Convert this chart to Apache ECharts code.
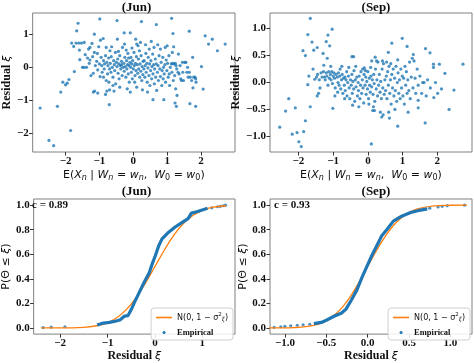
<!DOCTYPE html>
<html><head><meta charset="utf-8">
<script src="https://cdn.jsdelivr.net/npm/echarts@6/dist/echarts.min.js"></script>
<style>html,body{margin:0;padding:0;background:#fff}#c{width:474px;height:363px}</style>
</head><body><div id="c"></div>
<script>
// ---------- DATA ----------
const panelTitles = ['(Jun)', '(Sep)', '(Jun)', '(Sep)'];
const cLabels = ['c = 0.89', 'c = 0.93'];

// Top-left: Jun residuals vs E(Xn | Wn=wn, W0=w0)
const junResiduals = [
[-2.75,-1.23],[-2.49,-2.21],[-2.35,-2.37],[-2.24,-1.18],[-1.85,-1.91],[-2.14,-0.75],[-2.08,-0.45],[-2.0,-0.53],[-1.95,-0.48],[-1.9,-0.37],[-1.74,-0.13],[-1.63,1.33],[-1.67,1.1],[-1.82,0.73],[-1.76,0.63],[-1.69,0.73],[-1.61,0.73],[-1.53,0.73],[-1.59,0.52],[-1.58,0.23],[-1.5,0],[-1.45,0],[-0.99,1.46],[-0.48,1.41],[0.24,1.38],[0.68,1.29],[1.13,1.48],[-1.15,1.0],[-0.89,0.87],[-0.27,1.04],[-0.09,1.04],[0.1,0.7],[1.17,1.02],[1.65,1.09],[2.12,0.95],[2.33,0.85],[2.22,0.7],[2.71,0.7],[2.48,0.5],[2.01,0.02],[2.06,-0.66],[1.84,-0.35],[1.76,-0.62],[1.67,-1.1],[1.84,-1.18],[1.23,-1.08],[1.27,-1.18],[0.9,-0.98],[0.58,-0.98],[-0.71,-1.13],[-1.18,-0.75],[-1.05,-0.78],[-0.82,-0.82],[-0.7,-0.68],
[-1.42,0.38],[-1.35,0.28],[-1.38,0.0],[-1.32,0.55],[-1.3,0.12],[-1.45,0.75],
[-1.28,0.22],[-1.25,-0.25],[-1.22,0.72],[-1.2,0.32],[-1.18,-0.18],[-1.15,0.45],[-1.12,0.05],[-1.28,0.6],[-1.14,-0.72],
[-1.08,0.18],[-1.05,-0.08],[-1.02,0.62],[-1.0,0.1],[-0.98,-0.28],[-0.95,0.3],[-0.93,0.05],[-0.92,-0.15],[-1.06,0.42],[-0.97,0.82],
[-0.88,0.2],[-0.86,-0.05],[-0.85,0.1],[-0.82,0.35],[-0.8,-0.4],[-0.78,0.15],[-0.76,-0.2],[-0.75,0.05],[-0.73,0.28],[-0.72,-0.45],[-0.88,-0.3],[-0.8,0.6],[-0.7,-0.05],[-0.78,-0.72],
[-0.68,0.12],[-0.66,-0.15],[-0.65,0.32],[-0.62,0.0],[-0.6,-0.3],[-0.58,0.2],[-0.56,0.08],[-0.55,-0.1],[-0.53,0.45],[-0.52,-0.5],[-0.5,0.15],[-0.64,0.62],[-0.57,-0.72],[-0.69,0.5],[-0.6,-0.55],
[-0.48,0.02],[-0.46,0.25],[-0.45,-0.18],[-0.43,0.1],[-0.42,-0.35],[-0.4,0.35],[-0.38,0.05],[-0.37,-0.05],[-0.35,0.18],[-0.33,-0.25],[-0.32,0.6],[-0.3,0.0],[-0.47,0.85],[-0.4,-0.6],[-0.35,0.08],[-0.44,0.48],
[-0.28,0.12],[-0.27,-0.12],[-0.25,0.3],[-0.24,0.02],[-0.22,-0.3],[-0.2,0.2],[-0.19,-0.05],[-0.17,0.08],[-0.16,0.42],[-0.15,-0.2],[-0.13,0.05],[-0.12,-0.45],[-0.1,0.15],[-0.26,0.7],[-0.18,-0.65],[-0.21,0.52],[-0.14,0.28],
[-0.08,0.0],[-0.07,0.3],[-0.06,-0.15],[-0.05,0.1],[-0.03,-0.35],[-0.02,0.2],[0.0,-0.05],[0.02,0.45],[0.03,0.05],[0.05,-0.25],[0.06,0.12],[0.08,-0.1],[0.09,0.32],[0.1,-0.6],[-0.04,0.58],[0.07,0.85],[0.04,-0.45],[-0.09,-0.75],
[0.12,0.08],[0.13,-0.18],[0.15,0.25],[0.16,-0.05],[0.18,0.5],[0.19,-0.3],[0.2,0.1],[0.22,-0.12],[0.23,0.35],[0.25,-0.4],[0.26,0.02],[0.28,-0.22],[0.29,0.18],[0.14,0.65],[0.27,-0.68],[0.21,0.75],
[0.31,-0.05],[0.32,0.2],[0.34,-0.3],[0.35,0.05],[0.37,0.42],[0.38,-0.15],[0.4,0.12],[0.41,-0.45],[0.43,-0.02],[0.44,0.3],[0.46,-0.25],[0.48,0.1],[0.49,-0.55],[0.36,0.68],[0.42,-0.75],[0.47,0.55],
[0.51,-0.1],[0.52,0.2],[0.54,-0.35],[0.55,0.02],[0.57,0.4],[0.58,-0.2],[0.6,0.08],[0.62,-0.5],[0.63,-0.05],[0.65,0.25],[0.66,-0.3],[0.68,0.1],[0.53,0.78],[0.61,0.6],[0.69,-0.7],
[0.71,-0.15],[0.73,0.05],[0.74,-0.4],[0.76,0.35],[0.78,-0.05],[0.8,-0.28],[0.82,0.15],[0.84,-0.55],[0.85,-0.1],[0.87,0.3],[0.88,-0.35],[0.72,0.68],[0.8,0.55],[0.89,0.0],
[0.91,-0.2],[0.93,0.08],[0.95,-0.45],[0.97,0.22],[0.99,-0.1],[1.01,0.12],[1.03,-0.3],[1.05,0.35],[1.07,-0.55],[1.09,0.0],[0.94,0.6],[1.0,0.65],[1.06,-0.2],
[1.12,0.1],[1.14,-0.15],[1.16,0.12],[1.18,-0.4],[1.2,0.1],[1.22,-0.25],[1.24,0.12],[1.26,0.05],[1.28,-0.05],[1.15,0.45],[1.25,-0.65],[1.19,0.62],[1.29,-0.85],
[1.32,-0.15],[1.35,-0.2],[1.38,0.05],[1.4,-0.35],[1.42,-0.4],[1.45,0.15],[1.48,-0.4],[1.33,0.4],[1.46,-0.15],
[1.52,0.15],[1.55,0.15],[1.58,-0.15],[1.62,-0.3],[1.65,-0.15],[1.68,-0.3],[1.6,0.0],
[1.72,-0.4],[1.78,-0.3],[1.82,-0.3],[1.85,-0.45],[1.75,0.3]
];

// Top-right: Sep residuals
const sepResiduals = [
[-2.54,-0.83],[-2.37,-0.53],[-2.28,-0.30],[-2.18,-0.96],[-2.09,-0.47],[-2.04,-0.93],[-1.99,-1.10],[-1.92,-1.19],[-1.85,-0.91],[-1.8,-0.71],[-1.87,0.59],[-1.8,0.5],[-1.73,0.89],[-1.66,1.19],[-1.61,0.75],[-1.56,0.6],[-1.46,0.65],[-1.73,-0.04],[-1.70,0.12],[-1.66,-0.45],[-1.58,0.25],[-1.53,0.06],[-1.46,-0.25],[-1.29,0.54],[-1.2,0.76],[-1.15,0.88],[-1.1,0.68],[-1.03,0.99],[-1.01,-0.48],[-0.46,0.48],[-0.41,0.48],[-0.1,0.27],[0.1,-1.14],[0.11,0.4],[0.21,0.47],[0.59,0.56],[0.69,0.73],[0.99,0.82],[1.13,0.67],[1.31,0.52],[1.66,0.63],[1.79,0.55],[1.89,0.34],[1.89,0.28],[2.06,0.34],[2.22,0.17],[2.12,-0.12],[2.01,-0.2],[2.48,-0.14],[2.74,0.34],[2.34,-0.5],[1.65,-0.75],[0.86,-0.81],[0.62,-0.66],[0.4,-0.64],[0.14,-0.52],[0.19,-0.52],[1.45,-0.47],[1.45,-0.33],
[-1.48,0.1],[-1.45,0.15],[-1.4,0.05],[-1.38,-0.1],[-1.35,0.18],[-1.32,0.1],[-1.42,-0.2],
[-1.28,0.2],[-1.25,0.1],[-1.23,0.05],[-1.2,0.18],[-1.18,0.12],[-1.15,-0.05],[-1.13,0.2],[-1.11,0.08],[-1.27,0.32],[-1.17,0.45],
[-1.08,0.15],[-1.06,0.05],[-1.04,0.2],[-1.02,-0.02],[-1.0,0.12],[-0.98,0.18],[-0.96,0.08],[-0.94,-0.1],[-0.92,0.15],[-1.07,0.3],[-0.95,-0.25],
[-0.88,0.1],[-0.86,0.0],[-0.85,0.18],[-0.83,-0.05],[-0.81,0.12],[-0.8,0.25],[-0.78,-0.12],[-0.76,0.05],[-0.74,0.15],[-0.72,-0.2],[-0.7,0.08],[-0.87,-0.18],[-0.75,0.3],
[-0.68,-0.05],[-0.66,0.1],[-0.65,-0.15],[-0.63,0.05],[-0.61,0.2],[-0.6,-0.25],[-0.58,0.0],[-0.56,0.12],[-0.54,-0.1],[-0.52,-0.3],[-0.5,0.05],[-0.67,-0.3],[-0.55,0.28],
[-0.48,-0.05],[-0.46,0.15],[-0.45,-0.2],[-0.43,0.02],[-0.41,-0.12],[-0.4,0.22],[-0.38,-0.35],[-0.36,0.05],[-0.34,-0.08],[-0.32,0.1],[-0.3,-0.25],[-0.44,-0.42],[-0.35,0.3],
[-0.28,0.0],[-0.27,-0.15],[-0.25,0.12],[-0.23,-0.3],[-0.21,-0.05],[-0.2,0.2],[-0.18,-0.2],[-0.16,0.05],[-0.14,-0.1],[-0.12,-0.38],[-0.11,0.15],[-0.26,-0.45],[-0.15,0.25],
[-0.08,-0.05],[-0.06,0.1],[-0.05,-0.22],[-0.03,0.02],[-0.01,-0.12],[0.0,0.2],[0.02,-0.3],[0.04,0.08],[0.05,-0.05],[0.07,-0.18],[0.09,0.12],[-0.07,0.22],[0.03,-0.4],[0.08,0.28],
[0.11,-0.08],[0.13,0.05],[0.15,-0.22],[0.17,0.15],[0.18,-0.02],[0.2,-0.35],[0.22,0.25],[0.24,-0.12],[0.26,0.05],[0.28,-0.25],[0.29,0.38],[0.16,-0.45],[0.25,0.4],
[0.31,-0.05],[0.33,0.15],[0.35,-0.18],[0.37,0.02],[0.39,-0.3],[0.41,0.25],[0.43,-0.1],[0.45,0.35],[0.47,-0.22],[0.49,0.05],[0.36,-0.55],[0.44,-0.6],[0.42,0.4],
[0.51,-0.15],[0.53,0.12],[0.55,-0.3],[0.57,0.2],[0.59,-0.05],[0.61,0.3],[0.63,-0.2],[0.65,0.05],[0.67,-0.4],[0.69,0.15],[0.54,0.38],[0.6,-0.55],[0.66,0.35],
[0.71,-0.1],[0.73,0.25],[0.75,-0.25],[0.77,0.08],[0.79,-0.15],[0.81,0.3],[0.83,-0.35],[0.85,0.0],[0.87,0.18],[0.89,-0.2],[0.78,-0.5],[0.86,0.42],
[0.91,0.05],[0.93,-0.3],[0.95,0.25],[0.97,-0.1],[0.99,0.12],[1.01,-0.25],[1.03,0.08],[1.05,-0.4],[1.07,0.3],[1.09,-0.05],
[1.11,0.2],[1.13,-0.2],[1.15,0.05],[1.18,-0.15],[1.2,0.38],[1.22,-0.3],[1.25,0.1],[1.28,0.45],[1.3,-0.1],[1.16,-0.55],
[1.33,0.4],[1.36,0.08],[1.38,-0.2],[1.42,0.25],[1.45,-0.05],[1.5,0.12],[1.55,-0.2],[1.58,0.0],
[1.62,0.0],[1.68,-0.25],[1.72,0.05],[1.8,-0.1],[1.9,-0.28],[1.95,0.0]
];

// Bottom-left: Jun CDFs
const junNormal = [[-2.4,0.0],[-1.8,0.001],[-1.5,0.005],[-1.2,0.02],[-1.0,0.043],[-0.8,0.085],[-0.6,0.151],[-0.4,0.245],[-0.2,0.365],[0,0.5],[0.2,0.635],[0.4,0.755],[0.6,0.85],[0.8,0.915],[1.0,0.957],[1.2,0.981],[1.5,0.995]];
const junEmpiricalDense = [[-1.22,0.024],[-1.12,0.037],[-0.96,0.045],[-0.84,0.055],[-0.74,0.065],[-0.64,0.097],[-0.57,0.10],[-0.5,0.15],[-0.43,0.21],[-0.33,0.29],[-0.23,0.37],[-0.12,0.45],[-0.05,0.53],[0.01,0.59],[0.08,0.67],[0.15,0.725],[0.29,0.78],[0.42,0.82],[0.56,0.855],[0.7,0.89],[0.77,0.935],[0.9,0.948],[1.11,0.974]];
const junEmpiricalTail = [[-2.36,0.003],[-2.19,0.006],[-1.9,0.01],[1.2,0.978],[1.32,0.987],[1.38,0.99],[1.44,0.995],[1.49,1.0]];

// Bottom-right: Sep CDFs
const sepNormal = [[-1.2,0.0],[-1.0,0.001],[-0.8,0.006],[-0.6,0.03],[-0.5,0.059],[-0.4,0.106],[-0.3,0.174],[-0.2,0.266],[-0.1,0.377],[0,0.5],[0.1,0.623],[0.2,0.734],[0.3,0.826],[0.4,0.894],[0.5,0.941],[0.6,0.97],[0.8,0.994],[1.0,0.999],[1.2,1.0]];
const sepEmpiricalDense = [[-0.65,0.035],[-0.56,0.045],[-0.5,0.063],[-0.4,0.097],[-0.32,0.12],[-0.26,0.155],[-0.195,0.23],[-0.13,0.31],[-0.07,0.41],[0,0.515],[0.05,0.59],[0.11,0.67],[0.17,0.75],[0.23,0.8],[0.31,0.87],[0.41,0.91],[0.52,0.94],[0.64,0.96],[0.72,0.97]];
const sepEmpiricalTail = [[-1.13,0.005],[-1.05,0.01],[-1.0,0.013],[-0.93,0.018],[-0.85,0.022],[-0.78,0.026],[-0.7,0.03],[0.75,0.975],[0.85,0.985],[0.9,0.99],[0.96,0.995],[1.17,1.0]];

// Tick labels
const ticksTopLeftX = [-2,-1,0,1,2];
const ticksTopLeftY = [-2,-1,0,1];
const ticksTopRightX = [-2,-1,0,1,2];
const ticksTopRightY = [-1,-0.5,0,0.5,1];
const ticksBotLeftX = [-2,-1,0,1];
const ticksBotRightX = [-1,-0.5,0,0.5,1];
const ticksCdfY = [0,0.2,0.4,0.6,0.8,1.0];

// ---------- STYLE ----------
const BLUE = '#1f77b4', ORANGE = '#ff7f0e';
const SERIF = 'Liberation Serif';
const MATH = 'DejaVu Sans';
const fmtInt = v => String(v).replace('-', '\u2212');
const fmt1 = v => v.toFixed(1).replace('-', '\u2212');

const chart = echarts.init(document.getElementById('c'), null, {renderer: 'canvas'});

const richAll = {
  b: {fontFamily: SERIF, fontWeight: 'bold', fontSize: 12, color: '#111'},
  m: {fontFamily: MATH, fontStyle: 'italic', fontSize: 11, color: '#111'},
  r: {fontFamily: MATH, fontSize: 11, color: '#111'},
  s: {fontFamily: MATH, fontStyle: 'italic', fontSize: 8, color: '#111', padding: [6, 0, 0, 0]},
  s0: {fontFamily: MATH, fontSize: 8, color: '#111', padding: [6, 0, 0, 0]}
};
function ax(gi, min, max, ticks, fmt, name, gap) {
  return {
    type: 'value', gridIndex: gi, min, max, splitLine: {show: false},
    axisLine: {show: false, onZero: false},
    axisTick: {show: true, inside: false, length: 3.5, customValues: ticks, lineStyle: {color: '#333'}},
    axisLabel: {customValues: ticks, formatter: fmt, color: '#111', fontFamily: SERIF, fontWeight: 'bold', fontSize: 11, margin: 4},
    name, nameLocation: 'middle', nameGap: gap,
    nameTextStyle: {color: '#111', fontFamily: SERIF, fontSize: 12, rich: richAll}
  };
}
const topXName = '{r|E(}{m|X}{s|n}{r| | }{m|W}{s|n}{r| = }{m|w}{s|n}{r|,  }{m|W}{s0|0}{r| = }{m|w}{s0|0}{r|)}';
const residName = '{b|Residual }{m|ξ}';
const probName = '{r|P(Θ ≤ }{m|ξ}{r|)}';

const grids = [
  {left: 28, top: 13, width: 207, height: 139},
  {left: 270, top: 13, width: 202, height: 139},
  {left: 28, top: 199, width: 207, height: 140},
  {left: 270, top: 199, width: 202, height: 140}
].map(g => Object.assign(g, {show: true, borderColor: '#808080', borderWidth: 1, backgroundColor: '#fff', containLabel: false}));

const legendBase = {
  orient: 'vertical', padding: [4, 5, 3, 5], itemGap: 5, itemWidth: 16, itemHeight: 3,
  borderColor: '#d0d0d0', borderWidth: 1, borderRadius: 3, backgroundColor: 'rgba(255,255,255,0.85)',
  data: [
    {name: 'N', icon: 'path://M0,0 L20,0 L20,2 L0,2 Z', itemStyle: {color: ORANGE, borderColor: ORANGE, borderWidth: 0}},
    {name: 'Empirical', icon: 'circle', itemStyle: {color: BLUE, borderWidth: 0}}
  ],
  textStyle: {fontFamily: SERIF, fontSize: 8, color: '#111',
    rich: {t: {fontFamily: MATH, fontSize: 8, color: '#111'}, sp: {fontFamily: MATH, fontSize: 5.5, color: '#111', padding: [0, 0, 5, 0]},
      sb: {fontFamily: MATH, fontStyle: 'italic', fontSize: 5.5, color: '#111', padding: [5, 0, 0, 0]}, e: {fontFamily: SERIF, fontWeight: 'bold', fontSize: 8.5, color: '#111'}}},
  formatter: n => n === 'N' ? '{t|N(0, 1 − σ}{sp|2}{sb|ξ}{t|)}' : '{e|Empirical}'
};

const option = {
  animation: false,
  backgroundColor: '#fff',
  title: panelTitles.map((t, i) => ({
    text: t, left: grids[i].left + grids[i].width / 2, textAlign: 'center', top: i < 2 ? -4 : 180,
    textStyle: {fontFamily: SERIF, fontWeight: 'bold', fontSize: 13, color: '#111'}
  })),
  grid: grids,
  legend: [
    Object.assign({right: 241, top: 308}, legendBase),
    Object.assign({right: 4, top: 308}, legendBase)
  ],
  xAxis: [
    ax(0, -2.97, 3.0, ticksTopLeftX, fmtInt, topXName, 16),
    ax(1, -2.82, 3.0, ticksTopRightX, fmtInt, topXName, 16),
    ax(2, -2.56, 1.69, ticksBotLeftX, fmtInt, residName, 15),
    ax(3, -1.18, 1.26, ticksBotRightX, fmt1, residName, 15)
  ],
  yAxis: [
    ax(0, -2.56, 1.64, ticksTopLeftY, fmtInt, residName, 16),
    ax(1, -1.29, 1.29, ticksTopRightY, fmt1, residName, 23),
    ax(2, -0.05, 1.05, ticksCdfY, fmt1, probName, 21),
    ax(3, -0.05, 1.05, ticksCdfY, fmt1, probName, 21)
  ],
  graphic: [
    {type: 'text', left: 32, top: 200, style: {text: cLabels[0], font: 'bold 11px "Liberation Serif"', fill: '#111'}},
    {type: 'text', left: 274, top: 200, style: {text: cLabels[1], font: 'bold 11px "Liberation Serif"', fill: '#111'}}
  ],
  series: [
    {type: 'scatter', xAxisIndex: 0, yAxisIndex: 0, data: junResiduals, symbolSize: 3.2, itemStyle: {color: BLUE}, silent: true},
    {type: 'scatter', xAxisIndex: 1, yAxisIndex: 1, data: sepResiduals, symbolSize: 3.2, itemStyle: {color: BLUE}, silent: true},
    {name: 'N', type: 'line', color: ORANGE, xAxisIndex: 2, yAxisIndex: 2, data: junNormal, smooth: 0.4, symbol: 'none', lineStyle: {color: ORANGE, width: 1.3}, itemStyle: {color: ORANGE}},
    {name: 'Empirical', type: 'line', color: BLUE, xAxisIndex: 2, yAxisIndex: 2, data: junEmpiricalDense, symbol: 'none', lineStyle: {color: BLUE, width: 3.2}, itemStyle: {color: BLUE}},
    {name: 'Empirical', type: 'scatter', color: BLUE, xAxisIndex: 2, yAxisIndex: 2, data: junEmpiricalTail, symbolSize: 3.2, itemStyle: {color: BLUE}},
    {name: 'N', type: 'line', color: ORANGE, xAxisIndex: 3, yAxisIndex: 3, data: sepNormal, smooth: 0.4, symbol: 'none', lineStyle: {color: ORANGE, width: 1.3}, itemStyle: {color: ORANGE}},
    {name: 'Empirical', type: 'line', color: BLUE, xAxisIndex: 3, yAxisIndex: 3, data: sepEmpiricalDense, symbol: 'none', lineStyle: {color: BLUE, width: 3.2}, itemStyle: {color: BLUE}},
    {name: 'Empirical', type: 'scatter', color: BLUE, xAxisIndex: 3, yAxisIndex: 3, data: sepEmpiricalTail, symbolSize: 3.2, itemStyle: {color: BLUE}}
  ]
};
chart.setOption(option);
</script>
</body></html>
